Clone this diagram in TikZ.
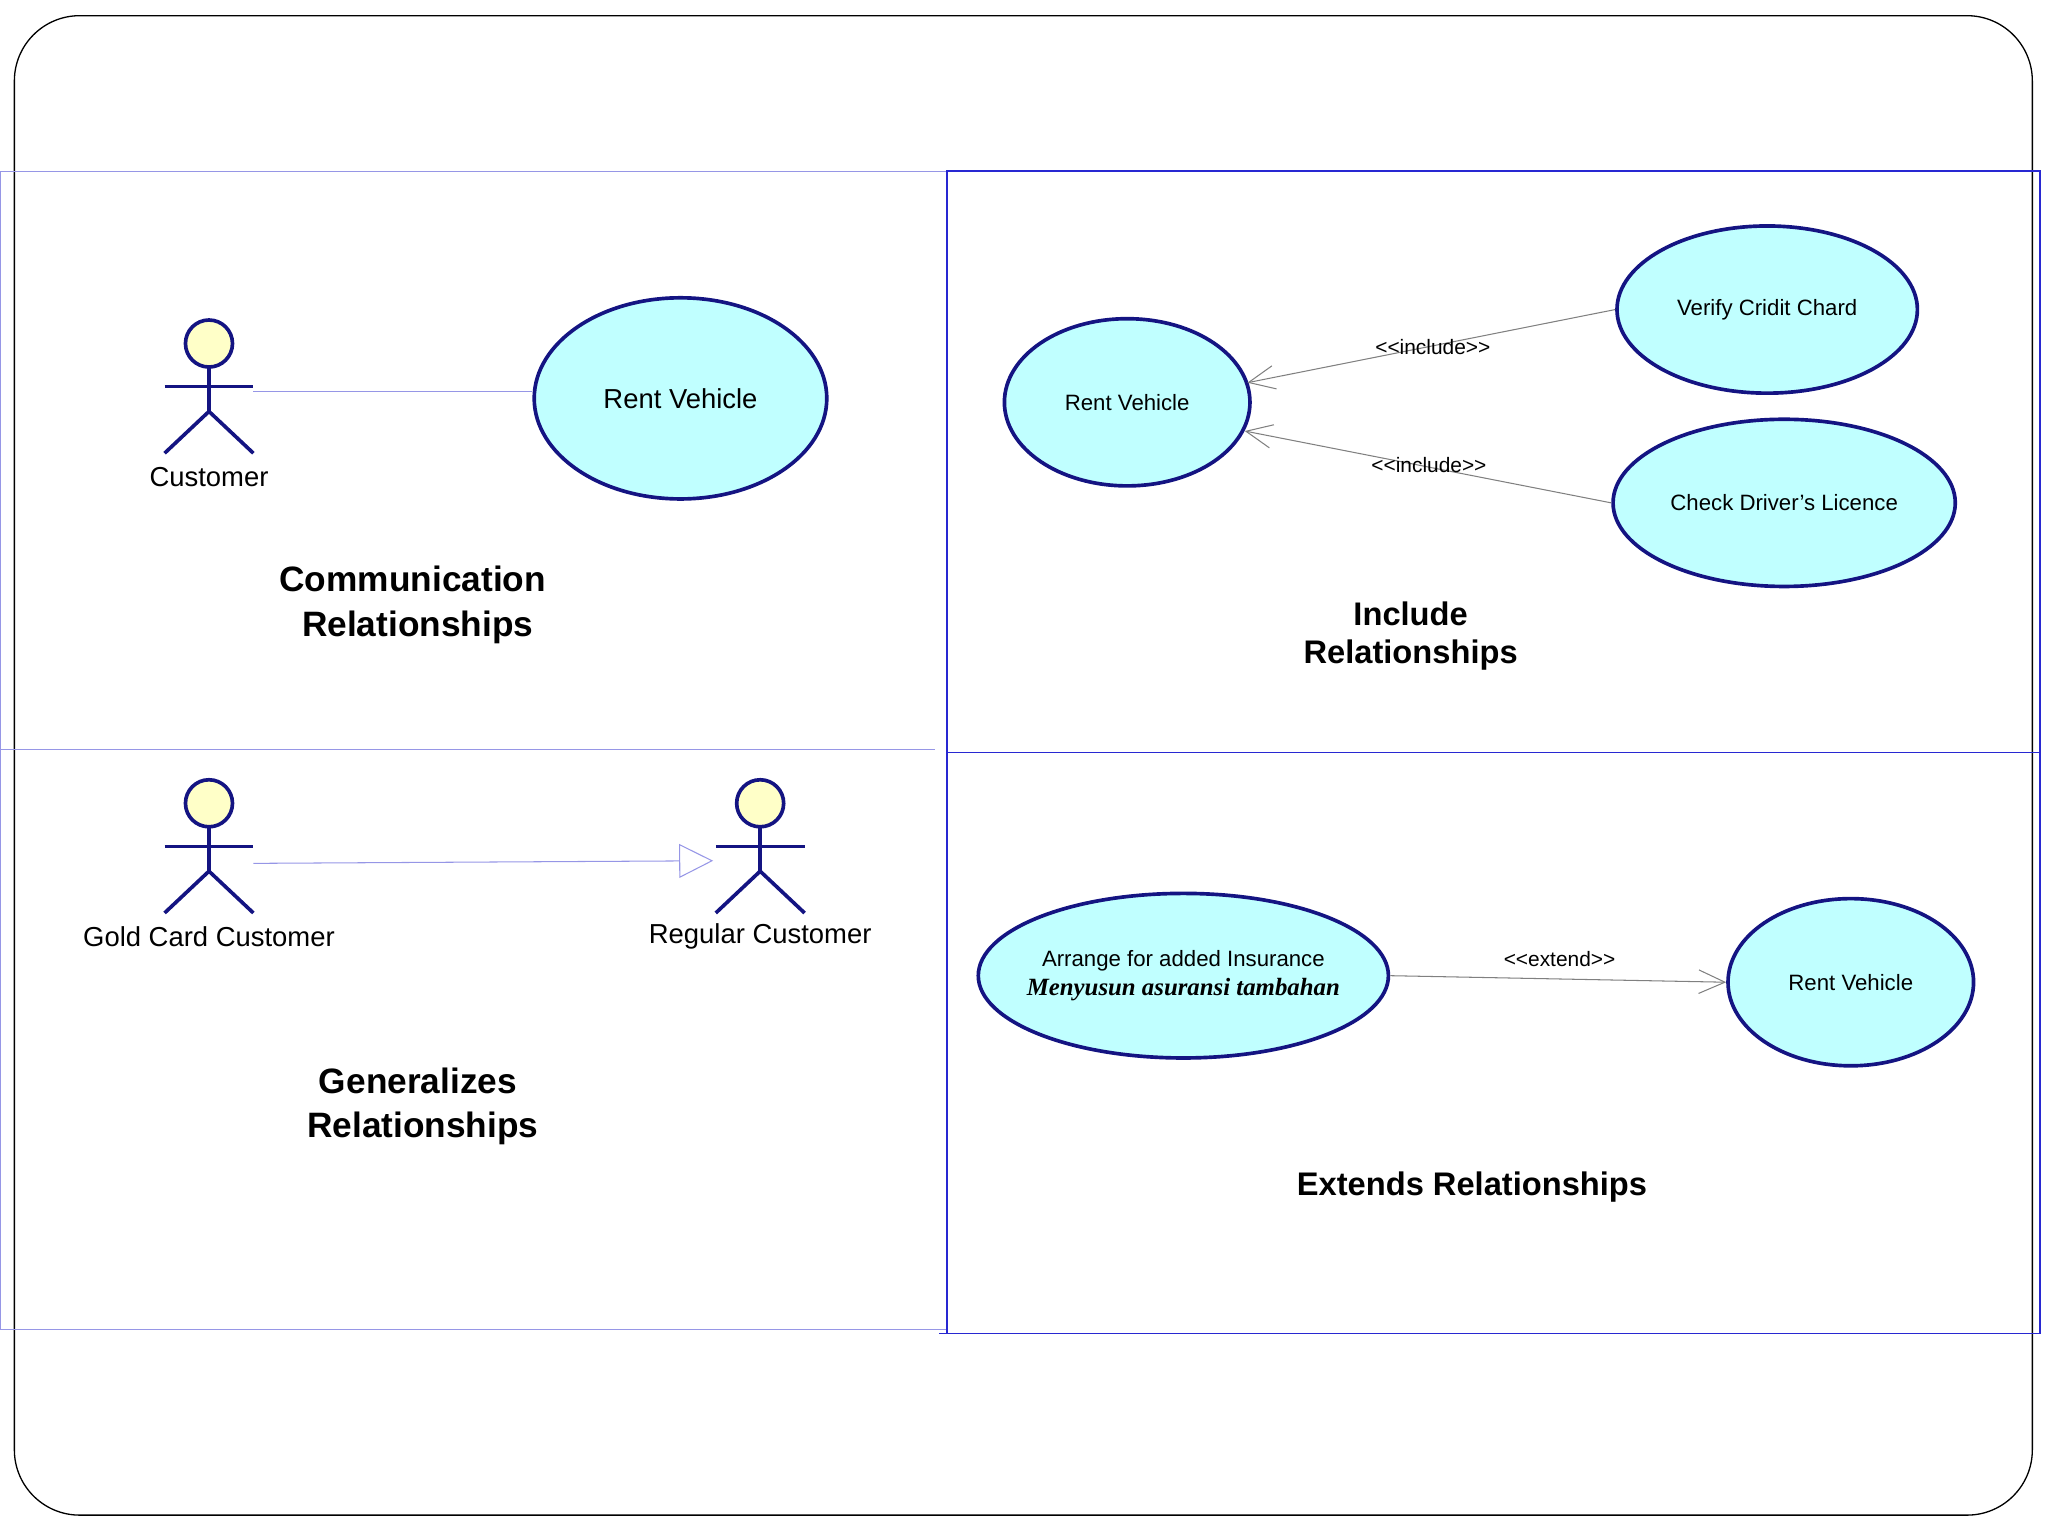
\documentclass[tikz,border=0pt]{standalone}
\usepackage{fontspec}
\setmainfont{Liberation Sans}[Ligatures=NoCommon]
\newfontfamily\serifit{Liberation Serif}
\usetikzlibrary{arrows.meta,shapes.geometric}
\definecolor{navy}{RGB}{20,20,130}
\definecolor{ucfill}{RGB}{192,255,255}
\definecolor{head}{RGB}{255,255,200}
\definecolor{lav}{RGB}{150,150,230}
\definecolor{pblue}{RGB}{40,40,210}
\tikzset{
 uc/.style={ellipse,draw=navy,line width=2.8pt,fill=ucfill,inner sep=0,font=\fontsize{17}{20}\selectfont},
 actline/.style={draw=navy,line width=2.8pt},
 title/.style={font=\bfseries\fontsize{27}{34}\selectfont,align=center},
 inc/.style={draw=gray,line width=0.8pt,-{Straight Barb[length=20pt,width=18pt,line width=0.8pt]}},
 lbl/.style={font=\fontsize{16}{19}\selectfont}
}
\newcommand{\actor}[4]{% x y name label
 \node[circle,draw=navy,line width=2.8pt,fill=head,minimum size=36pt,inner sep=0] (#3) at (#1,#2) {};
 \draw[actline] (#1,#2+18)--(#1,#2+52);
 \draw[actline] (#1-34,#2+33)--(#1+34,#2+33);
 \draw[actline] (#1-34,#2+84)--(#1,#2+52)--(#1+34,#2+84);
 \node[font=\fontsize{21}{24}\selectfont] (#3l) at (#1,#2+102) {#4};
}
\newcommand{\stl}{{<}\kern0pt{<}}
\newcommand{\stg}{{>}\kern0pt{>}}
\begin{document}
\begin{tikzpicture}[x=1pt,y=-1pt]
\useasboundingbox (0,0) rectangle (1568,1176);
\draw[line width=1pt,rounded corners=50pt] (11,12) rectangle (1556,1160);
\draw[lav,line width=0.8pt] (0,131) rectangle (725,1018);
\draw[lav,line width=0.8pt] (0,574) -- (716,574);
\draw[pblue,line width=1.4pt] (725,131) rectangle (1562,1021);
\draw[pblue,line width=1pt] (725,576) -- (1562,576);
\draw[pblue,line width=1pt] (719,1021) -- (725,1021);
% communication
\actor{160}{263}{cust}{Customer}
\node[uc,minimum width=224pt,minimum height=154pt,font=\fontsize{21}{24}\selectfont] (rv1) at (521,305) {Rent Vehicle};
\coordinate (ch) at (194,300);
\draw[lav,line width=0.8pt] (ch) -- (rv1.west |- ch);
\node[title] (t1) at (316,463) {Communication\\ \ Relationships};
% generalization
\actor{160}{615}{gold}{Gold Card Customer}
\actor{582}{615}{reg}{Regular Customer}
\coordinate (gh) at (194,661);
\coordinate (rh) at (546,659);
\draw[lav,line width=0.8pt,-{Triangle[open,length=26pt,width=26pt,line width=0.8pt]}] (gh) -- (rh);
\node[title] (t2) at (320,847) {Generalizes\\ \ Relationships};
% include
\node[uc,minimum width=188pt,minimum height=128pt] (rv2) at (863,308) {Rent Vehicle};
\node[uc,minimum width=230pt,minimum height=128pt] (ver) at (1353,237) {Verify Cridit Chard};
\node[uc,minimum width=262pt,minimum height=128pt] (chk) at (1366,385) {Check Driver's Licence};
\draw[inc] (ver.west) -- (955,293);
\draw[inc] (chk.west) -- (953,330);
\node[lbl] (i1) at (1097,266) {\stl include\stg};
\node[lbl] (i2) at (1094,356) {\stl include\stg};
\node[title,font=\bfseries\fontsize{25}{29}\selectfont] (t3) at (1080,487) {Include\\Relationships};
% extend
\node[uc,minimum width=314pt,minimum height=126pt,inner sep=-30pt,align=center] (arr) at (906,747) {Arrange for added Insurance\\[2pt]{\serifit\bfseries\itshape\fontsize{19}{22}\selectfont Menyusun asuransi tambahan}};
\node[uc,minimum width=188pt,minimum height=128pt] (rv3) at (1417,752) {Rent Vehicle};
\draw[inc] (arr.east) -- (rv3.west);
\node[lbl] (e1) at (1194,734) {\stl extend\stg};
\node[title,font=\bfseries\fontsize{25}{29}\selectfont] (t4) at (1127,909) {Extends Relationships};
\end{tikzpicture}
\end{document}
